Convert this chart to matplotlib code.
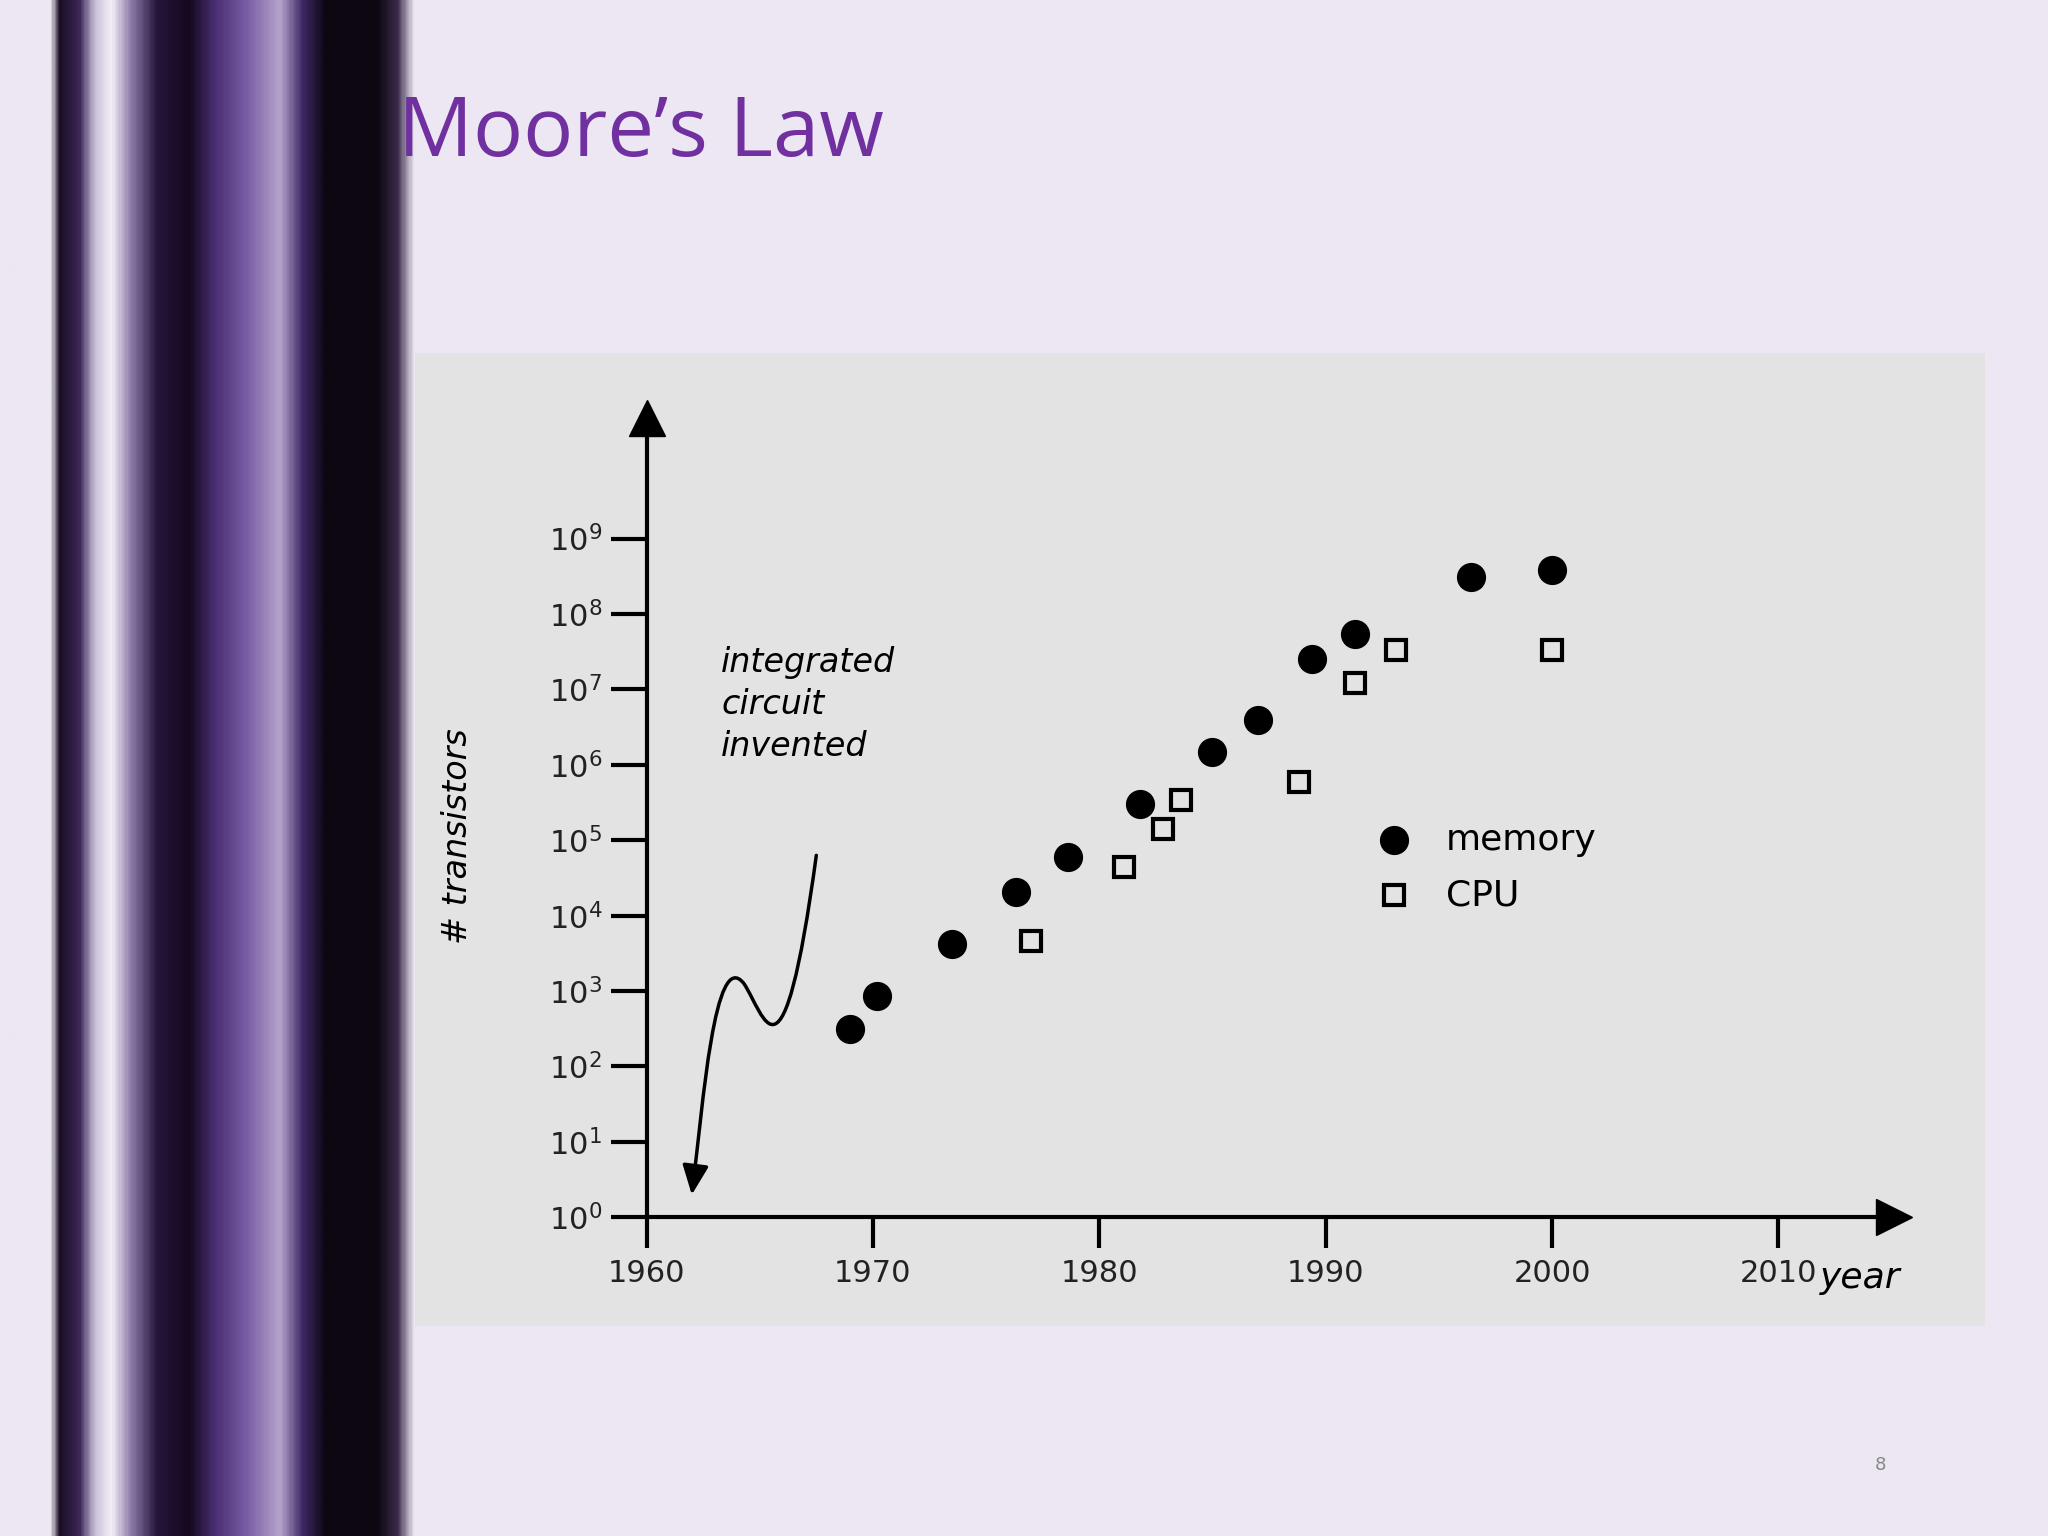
import numpy as np
import matplotlib.pyplot as plt
from matplotlib.colors import LinearSegmentedColormap
from matplotlib.patches import Rectangle, FancyArrowPatch
from matplotlib.path import Path

mem_year = [1969.0, 1970.2, 1973.5, 1976.3, 1978.6, 1981.8, 1985.0, 1987.0, 1989.4, 1991.3, 1996.4, 2000.0]
mem_log = [2.5, 2.93, 3.62, 4.32, 4.78, 5.48, 6.17, 6.6, 7.4, 7.73, 8.49, 8.58]
cpu_year = [1977.0, 1981.1, 1982.8, 1983.6, 1988.8, 1991.3, 1993.1, 2000.0]
cpu_log = [3.66, 4.64, 5.15, 5.53, 5.77, 7.09, 7.52, 7.52]
year_ticks = [1960, 1970, 1980, 1990, 2000, 2010]
decades = list(range(0, 10))

W, H = 1568, 1176
fig = plt.figure(figsize=(20.48, 15.36), dpi=100)
fig.patch.set_facecolor('#ECE7F2')

# decorative stripes on the left
deco = fig.add_axes([0, 0, 320 / W, 1])
deco.axis('off')
xs = np.linspace(0, 320, 320)
stops = [(0, '#ECE7F2'), (38, '#ECE7F2'), (45, '#1a0f24'), (60, '#3b2656'), (72, '#c9bfd8'),
         (85, '#f4f0f8'), (100, '#8c7aa8'), (120, '#24163a'), (145, '#14091f'), (165, '#4a2f75'),
         (190, '#7b5fa6'), (215, '#b5a4cc'), (232, '#3e2866'), (250, '#0d0712'), (290, '#0d0712'),
         (305, '#3a2a4a'), (318, '#ECE7F2'), (320, '#ECE7F2')]
cmap = LinearSegmentedColormap.from_list('stripes', [(p / 320, c) for p, c in stops])
deco.imshow(np.tile(xs, (10, 1)), cmap=cmap, aspect='auto', extent=[0, 320, 0, 1])
deco.set_xlim(0, 320)

fig.text(305 / W, 1 - 103 / H, 'Moore\u2019s Law', color='#7030A0', fontsize=60,
         va='center', ha='left', family='Open Sans')
fig.text(1440 / W, 1 - 1122 / H, '8', color='#888888', fontsize=13, ha='center', va='center')

# gray chart panel
panel = fig.add_axes([318 / W, 1 - 1015 / H, (1520 - 318) / W, (1015 - 270) / H])
panel.axis('off')
panel.add_patch(Rectangle((0, 0), 1, 1, transform=panel.transAxes, facecolor='#E3E3E3', edgecolor='none'))

ax = fig.add_axes([495 / W, 1 - 932 / H, (1450 - 495) / W, (932 - 320) / H])
ax.set_facecolor('none')
ax.set_xlim(1960, 2015.1)
ax.set_ylim(0, 10.6)
for s in ['top', 'right']:
    ax.spines[s].set_visible(False)
for s in ['left', 'bottom']:
    ax.spines[s].set_linewidth(3)
ax.set_xticks(year_ticks)
ax.set_xticklabels([str(y) for y in year_ticks], fontsize=22, color='#222222')
ax.set_yticks(decades)
ax.set_yticklabels([r'$10^{%d}$' % d for d in decades], fontsize=22, color='#222222')
ax.tick_params(axis='y', length=26, width=3, pad=6)
ax.tick_params(axis='x', length=22, width=3, pad=8)

ax.plot(mem_year, mem_log, 'o', color='black', markersize=20, clip_on=False)
ax.plot(cpu_year, cpu_log, 's', markerfacecolor='none', markeredgecolor='black',
        markeredgewidth=3, markersize=15, clip_on=False)

# legend
ax.plot([1993.0], [5.0], 'o', color='black', markersize=20)
ax.plot([1993.0], [4.27], 's', markerfacecolor='none', markeredgecolor='black', markeredgewidth=3, markersize=15)
ax.text(1995.3, 5.0, 'memory', fontsize=26, va='center')
ax.text(1995.3, 4.27, 'CPU', fontsize=26, va='center')

# arrowheads on axes
ax.plot([0], [1], '^', color='black', markersize=26, transform=ax.transAxes, clip_on=False)
ax.plot([1], [0], '>', color='black', markersize=26, transform=ax.transAxes, clip_on=False)

ax.text(1963.3, 6.8, 'integrated\ncircuit\ninvented', fontsize=24, style='italic',
        va='center', ha='left', linespacing=1.35)
ax.text(2013.6, -0.8, 'year', fontsize=26, style='italic', ha='center', va='center')
fig.text(350 / W, 1 - 640 / H, '# transistors', fontsize=24, style='italic', rotation=90,
         ha='center', va='center')

# squiggly arrow
verts = [(1967.5, 4.8), (1966.0, 1.5), (1965.2, 2.7), (1964.3, 3.1),
         (1963.0, 3.6), (1962.5, 1.5), (1962.0, 0.3)]
path = Path(verts, [Path.MOVETO, Path.CURVE4, Path.CURVE4, Path.CURVE4,
                    Path.CURVE4, Path.CURVE4, Path.CURVE4])
ax.add_patch(FancyArrowPatch(path=path, arrowstyle='-|>,head_length=18,head_width=8',
                             color='black', linewidth=2.5))

fig.savefig('out.png', dpi=100, facecolor=fig.get_facecolor())
